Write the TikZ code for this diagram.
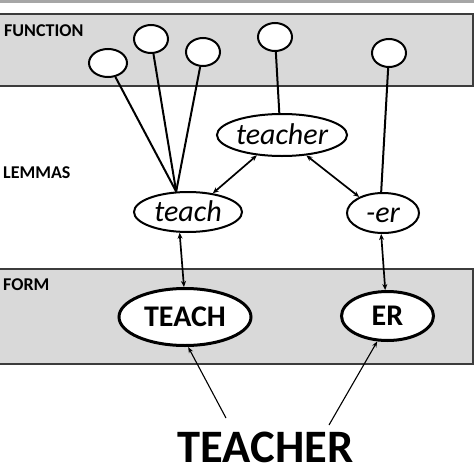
\documentclass[tikz,border=0pt]{standalone}
\usepackage{fontspec}
\setmainfont{Carlito}
\usetikzlibrary{shapes.geometric,arrows.meta}
\definecolor{bandgray}{HTML}{D9D9D9}
\definecolor{bandline}{HTML}{3C3C3C}
\definecolor{edgegray}{HTML}{A6A6A6}
\tikzset{
	band/.style = {fill = bandgray, draw = bandline, line width = 1.8pt},
	fun/.style = {draw, ellipse, fill = white, line width = 2pt, minimum width = 34pt, minimum height = 28pt, inner sep = 0pt},
	lemma/.style = {draw, ellipse, fill = white, line width = 2pt, inner sep = 0pt, minimum height = 40pt, text height = 19pt, text depth = 0pt, font = \fontsize{30}{30}\selectfont\itshape},
	formnode/.style = {draw, ellipse, fill = white, line width = 3pt, inner sep = 0pt, font = \fontsize{30}{30}\selectfont\bfseries},
	level/.style = {anchor = west, inner sep = 0pt, font = \fontsize{18}{18}\selectfont\bfseries},
	link/.style = {line width = 2pt},
	dbl/.style = {line width = 1.7pt, {Stealth[length=6pt,width=5pt]}-{Stealth[length=6pt,width=5pt]}},
	feed/.style = {line width = 1.1pt, -{Stealth[length=6pt,width=4.5pt]}}
}
\begin{document}
\begin{tikzpicture}[x = 1pt, y = -1pt]
	\useasboundingbox (0,0) rectangle (474,474);
	% bands
	\fill[edgegray] (0,0) rectangle (474,2.5);
	\draw[band] (-5,14) rectangle (473,86);
	\draw[band] (-5,269) rectangle (473,364);
	\node[level] (lfun) at (4,31) {FUNCTION};
	\node[level] (llem) at (3,172.5) {LEMMAS};
	\node[level] (lform) at (3,285) {FORM};
	% function
	\node[fun, minimum width = 38pt] (f1) at (108,63) {};
	\node[fun] (f2) at (151,39) {};
	\node[fun] (f3) at (203,52) {};
	\node[fun] (f4) at (275,37) {};
	\node[fun] (f5) at (389,53) {};
	% lemmas
	\node[lemma, minimum width = 108pt] (teach) at (188,212) {teach};
	\node[lemma, minimum width = 120pt, minimum height = 42pt] (teacher) at (282,135) {teacher};
	\node[lemma, minimum width = 72pt] (er) at (383,213) {-er};
	% form
	\node[formnode, minimum width = 132pt, minimum height = 57pt] (TEACH) at (185,317) {TEACH};
	\node[formnode, minimum width = 92pt, minimum height = 49pt] (ER) at (387.5,316) {ER};
	\node[inner sep = 0pt, font = \fontsize{46.5}{46.5}\selectfont\bfseries] (word) at (265.5,447.5) {TEACHER};
	\coordinate (w1) at (226,418);
	\coordinate (w2) at (329,425);
	% links
	\draw[link] (f1) -- (teach.120);
	\draw[link] (f2) -- (teach.120);
	\draw[link] (f3) -- (teach.120);
	\draw[link] (f4) -- (teacher.97);
	\draw[link] (f5) -- (er.95);
	\draw[dbl] (teacher.219) -- (teach.37);
	\draw[dbl] (teacher.320) -- (er.146);
	\draw[dbl] (teach.248) -- (TEACH.92);
	\draw[dbl] (er.265) -- (ER.95);
	\draw[feed] (w1) -- (TEACH.-84);
	\draw[feed] (w2) -- (ER.248);
\end{tikzpicture}
\end{document}
